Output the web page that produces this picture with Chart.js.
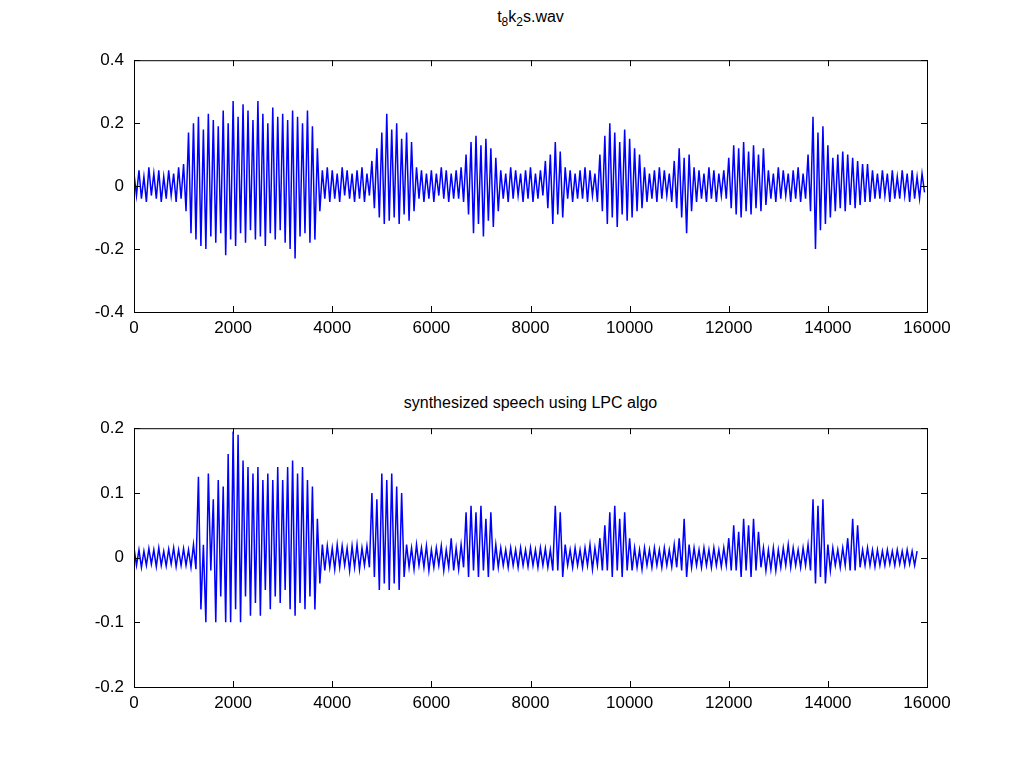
<!DOCTYPE html>
<html>
<head>
<meta charset="utf-8">
<script src="https://cdn.jsdelivr.net/npm/chart.js@4"></script>
<style>
  body { margin: 0; width: 1024px; height: 768px; background: #fff; position: relative; overflow: hidden; font-family: "Liberation Sans", Arial, sans-serif; }
  .ttl { position: absolute; left: 134px; width: 793px; text-align: center; font-size: 16px; color: #000; }
  .ttl sub { font-size: 12px; }
  canvas { position: absolute; left: 0; }
</style>
</head>
<body>
<div class="ttl" style="top:8px">t<sub>8</sub>k<sub>2</sub>s.wav</div>
<div class="ttl" style="top:394px">synthesized speech using LPC algo</div>
<div style="position:absolute;left:0;top:40px;width:1024px;height:320px"><canvas id="top"></canvas></div>
<div style="position:absolute;left:0;top:408px;width:1024px;height:327px"><canvas id="bottom"></canvas></div>
<script>
// sample spacing between the read-off envelope points
const STEP = 50;

const X_TICKS = [0, 2000, 4000, 6000, 8000, 10000, 12000, 14000, 16000];
const TOP_Y_TICKS = [-0.4, -0.2, 0, 0.2, 0.4];
const BOTTOM_Y_TICKS = [-0.2, -0.1, 0, 0.1, 0.2];

// original recording (peaks, alternating up/down)
const originalWave = [
  0.04,-0.03,0.05,-0.04,0.03,-0.05,0.06,-0.03,0.04,-0.04,0.05,-0.05,0.03,-0.04,0.05,-0.03,0.04,-0.05,0.06,-0.04,
  0.07,-0.08,0.17,-0.15,0.20,-0.17,0.22,-0.19,0.18,-0.20,0.23,-0.16,0.21,-0.18,0.19,-0.15,0.24,-0.22,0.20,-0.17,
  0.27,-0.19,0.22,-0.15,0.26,-0.18,0.24,-0.14,0.21,-0.17,0.27,-0.16,0.23,-0.19,0.20,-0.15,0.25,-0.17,0.22,-0.14,
  0.23,-0.18,0.21,-0.20,0.24,-0.23,0.22,-0.16,0.20,-0.15,0.24,-0.18,0.19,-0.17,0.12,-0.08,0.05,-0.04,0.06,-0.05,
  0.05,-0.04,0.04,-0.05,0.06,-0.03,0.05,-0.04,0.04,-0.05,0.05,-0.04,0.06,-0.05,0.04,-0.03,0.08,-0.07,0.12,-0.10,
  0.17,-0.12,0.23,-0.11,0.18,-0.10,0.20,-0.12,0.15,-0.09,0.17,-0.11,0.14,-0.08,0.06,-0.04,0.05,-0.05,0.04,-0.04,
  0.05,-0.05,0.04,-0.03,0.06,-0.04,0.05,-0.05,0.04,-0.04,0.05,-0.04,0.06,-0.05,0.10,-0.09,0.14,-0.15,0.16,-0.12,
  0.13,-0.16,0.15,-0.11,0.12,-0.13,0.09,-0.08,0.05,-0.04,0.04,-0.05,0.06,-0.04,0.05,-0.03,0.04,-0.05,0.05,-0.04,
  0.06,-0.05,0.04,-0.04,0.05,-0.03,0.08,-0.07,0.10,-0.12,0.14,-0.09,0.11,-0.10,0.06,-0.04,0.05,-0.05,0.04,-0.04,
  0.05,-0.04,0.06,-0.05,0.05,-0.03,0.04,-0.05,0.10,-0.08,0.16,-0.12,0.20,-0.10,0.17,-0.13,0.14,-0.09,0.18,-0.11,
  0.15,-0.10,0.12,-0.08,0.10,-0.07,0.06,-0.05,0.04,-0.04,0.05,-0.05,0.06,-0.04,0.05,-0.03,0.04,-0.05,0.08,-0.07,
  0.12,-0.10,0.09,-0.15,0.10,-0.08,0.06,-0.05,0.05,-0.04,0.04,-0.05,0.06,-0.04,0.05,-0.05,0.04,-0.03,0.05,-0.04,
  0.09,-0.07,0.13,-0.09,0.12,-0.10,0.14,-0.08,0.11,-0.09,0.13,-0.07,0.10,-0.08,0.12,-0.06,0.05,-0.04,0.04,-0.05,
  0.06,-0.04,0.05,-0.03,0.04,-0.05,0.05,-0.04,0.06,-0.05,0.04,-0.04,0.10,-0.08,0.22,-0.20,0.17,-0.14,0.19,-0.12,
  0.13,-0.10,0.09,-0.08,0.10,-0.07,0.11,-0.08,0.10,-0.06,0.09,-0.07,0.08,-0.06,0.07,-0.05,0.07,-0.05,0.05,-0.04,
  0.04,-0.04,0.05,-0.03,0.04,-0.05,0.05,-0.04,0.03,-0.04,0.05,-0.03,0.04,-0.05,0.05,-0.04,0.03,-0.04,0.04,-0.02
];

// LPC synthesized speech
const synthWave = [
  0.015,-0.012,0.012,-0.015,0.010,-0.012,0.014,-0.010,0.012,-0.014,0.015,-0.012,0.010,-0.013,0.013,-0.010,0.015,-0.014,0.012,-0.012,
  0.014,-0.012,0.012,-0.015,0.020,-0.018,0.125,-0.08,0.02,-0.10,0.13,-0.02,0.09,-0.10,0.12,-0.06,0.11,-0.10,0.16,-0.10,
  0.195,-0.08,0.19,-0.10,0.15,-0.06,0.14,-0.09,0.13,-0.07,0.14,-0.09,0.12,-0.05,0.13,-0.08,0.12,-0.06,0.14,-0.07,
  0.12,-0.05,0.14,-0.08,0.15,-0.09,0.13,-0.07,0.14,-0.08,0.12,-0.06,0.11,-0.08,0.06,-0.04,0.02,-0.02,0.018,-0.015,
  0.015,-0.018,0.02,-0.015,0.018,-0.012,0.015,-0.02,0.018,-0.015,0.02,-0.018,0.015,-0.012,0.018,-0.015,0.10,-0.03,0.09,-0.05,
  0.13,-0.04,0.12,-0.05,0.13,-0.04,0.11,-0.05,0.10,-0.03,0.02,-0.015,0.015,-0.018,0.02,-0.012,0.015,-0.015,0.018,-0.02,
  0.012,-0.015,0.015,-0.012,0.018,-0.02,0.012,-0.015,0.03,-0.02,0.015,-0.018,0.02,-0.015,0.07,-0.03,0.08,-0.02,0.07,-0.03,
  0.08,-0.02,0.06,-0.03,0.07,-0.02,0.02,-0.015,0.015,-0.012,0.012,-0.015,0.015,-0.012,0.012,-0.015,0.015,-0.012,0.012,-0.014,
  0.015,-0.012,0.012,-0.015,0.015,-0.012,0.014,-0.015,0.012,-0.02,0.08,-0.02,0.07,-0.03,0.02,-0.012,0.012,-0.015,0.015,-0.012,
  0.012,-0.015,0.015,-0.012,0.02,-0.018,0.015,-0.012,0.03,-0.02,0.05,-0.02,0.07,-0.03,0.08,-0.02,0.06,-0.03,0.07,-0.02,
  0.03,-0.02,0.015,-0.015,0.012,-0.018,0.015,-0.012,0.012,-0.015,0.015,-0.012,0.012,-0.015,0.015,-0.012,0.012,-0.014,0.02,-0.015,
  0.03,-0.02,0.06,-0.03,0.02,-0.015,0.015,-0.012,0.012,-0.015,0.015,-0.012,0.012,-0.015,0.015,-0.012,0.012,-0.014,0.015,-0.012,
  0.03,-0.02,0.05,-0.02,0.04,-0.03,0.06,-0.02,0.05,-0.03,0.06,-0.02,0.04,-0.015,0.015,-0.02,0.012,-0.018,0.015,-0.02,
  0.012,-0.015,0.015,-0.012,0.02,-0.015,0.015,-0.012,0.012,-0.015,0.015,-0.012,0.02,-0.02,0.09,-0.04,0.08,-0.03,0.09,-0.04,
  0.02,-0.02,0.015,-0.012,0.012,-0.015,0.015,-0.012,0.03,-0.02,0.06,-0.02,0.05,-0.015,0.012,-0.012,0.015,-0.012,0.012,-0.014,
  0.012,-0.012,0.01,-0.012,0.012,-0.01,0.01,-0.012,0.012,-0.01,0.01,-0.012,0.012,-0.01,0.01,-0.012,0.01
];

// matlab style box with inward ticks
const boxPlugin = {
  id: 'box',
  afterDraw(chart) {
    const { ctx, chartArea: a, scales } = chart;
    ctx.save();
    ctx.strokeStyle = '#000';
    ctx.lineWidth = 1;
    ctx.strokeRect(a.left + 0.5, a.top + 0.5, a.right - a.left, a.bottom - a.top);
    ctx.beginPath();
    scales.x.ticks.forEach(t => {
      const px = Math.round(scales.x.getPixelForValue(t.value)) + 0.5;
      ctx.moveTo(px, a.bottom); ctx.lineTo(px, a.bottom - 6);
      ctx.moveTo(px, a.top); ctx.lineTo(px, a.top + 6);
    });
    scales.y.ticks.forEach(t => {
      const py = Math.round(scales.y.getPixelForValue(t.value)) + 0.5;
      ctx.moveTo(a.left, py); ctx.lineTo(a.left + 6, py);
      ctx.moveTo(a.right, py); ctx.lineTo(a.right - 6, py);
    });
    ctx.stroke();
    ctx.restore();
  }
};

function makeChart(id, wave, yTicks) {
  const pts = wave.map((v, i) => ({ x: i * STEP, y: v }));
  const tickFont = { family: '"Liberation Sans", Arial, sans-serif', size: 17 };
  return new Chart(document.getElementById(id), {
    type: 'line',
    data: { datasets: [{ data: pts, borderColor: '#0000ff', borderWidth: 1.5, pointRadius: 0, tension: 0 }] },
    plugins: [boxPlugin],
    options: {
      responsive: true,
      maintainAspectRatio: false,
      animation: false,
      layout: { padding: { top: 10, right: 97, left: 0, bottom: 0 } },
      plugins: { legend: { display: false }, tooltip: { enabled: false } },
      scales: {
        x: {
          type: 'linear', min: 0, max: 16000,
          afterBuildTicks: s => { s.ticks = X_TICKS.map(v => ({ value: v })); },
          afterFit: s => { s.height = 48; },
          ticks: { color: '#000', font: tickFont, padding: 6, maxRotation: 0, callback: v => String(v) },
          grid: { display: false, drawTicks: false },
          border: { display: false }
        },
        y: {
          min: yTicks[0], max: yTicks[yTicks.length - 1],
          afterBuildTicks: s => { s.ticks = yTicks.map(v => ({ value: v })); },
          afterFit: s => { s.width = 134; },
          ticks: { color: '#000', font: tickFont, padding: 10, callback: v => String(v) },
          grid: { display: false, drawTicks: false },
          border: { display: false }
        }
      }
    }
  });
}

makeChart('top', originalWave, TOP_Y_TICKS);
makeChart('bottom', synthWave, BOTTOM_Y_TICKS);
</script>
</body>
</html>
